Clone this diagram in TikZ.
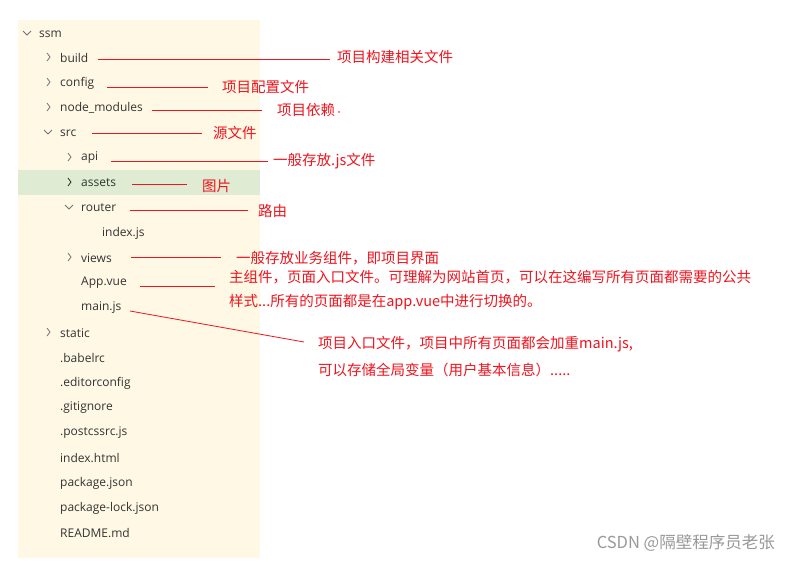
\documentclass[tikz,border=0pt]{standalone}
\usepackage{fontspec}
\setmainfont{Open Sans}
\newfontfamily\cjk{Noto Sans CJK SC}
\definecolor{panel}{HTML}{FEF8E5}
\definecolor{hl}{HTML}{DFEBD2}
\definecolor{nred}{HTML}{F0141E}
\begin{document}
\begin{tikzpicture}[x=1pt,y=-1pt,
  item/.style={anchor=west,inner sep=0pt,font=\fontsize{12}{14}\selectfont,text=black!80},
  note/.style={anchor=west,inner sep=0pt,font=\cjk\fontsize{14.5}{16}\selectfont,text=nred},
  lnk/.style={draw=nred,line width=0.8pt},
  chev/.style={draw=black!55,line width=0.8pt}]
\useasboundingbox (0,0) rectangle (790,562);
\fill[white] (0,0) rectangle (790,562);
\fill[panel] (18,20) rectangle (260,558);
\fill[hl] (18,170) rectangle (260,195);
% chevrons
\draw[chev] (23,31)--(27,35)--(31,31);
\draw[chev] (47,53)--(50,57)--(47,61);
\draw[chev] (47,78)--(50,82)--(47,86);
\draw[chev] (47,103)--(50,107)--(47,111);
\draw[chev] (44,130)--(48,134)--(52,130);
\draw[chev] (68,153)--(71,157)--(68,161);
\draw[chev,draw=black!85] (68,178)--(71,182)--(68,186);
\draw[chev] (65,205)--(69,209)--(73,205);
\draw[chev] (68,253)--(71,257)--(68,261);
\draw[chev] (47,328)--(50,332)--(47,336);
% items
\node[item] (ssm) at (39,34) {ssm};
\node[item] (build) at (60,58) {build};
\node[item] (config) at (60,83) {config};
\node[item] (nm) at (60,108) {node\_modules};
\node[item] (src) at (60,133) {src};
\node[item] (api) at (81,158) {api};
\node[item] (assets) at (81,183) {assets};
\node[item] (router) at (81,208) {router};
\node[item] (idx) at (102,233) {index.js};
\node[item] (views) at (81,258) {views};
\node[item] (app) at (81,283) {App.vue};
\node[item] (main) at (81,308) {main.js};
\node[item] (static) at (60,333) {static};
\node[item] (babel) at (60,358) {.babelrc};
\node[item] (edit) at (60,383) {.editorconfig};
\node[item] (git) at (60,408) {.gitignore};
\node[item] (post) at (60,433) {.postcssrc.js};
\node[item] (html) at (60,458) {index.html};
\node[item] (pkg) at (60,483) {package.json};
\node[item] (lock) at (60,508) {package-lock.json};
\node[item] (readme) at (60,533) {README.md};
% notes
\node[note] (nbuild) at (337,57) {项目构建相关文件};
\node[note] (nconfig) at (222,87) {项目配置文件};
\node[note] (nnm) at (277,110) {项目依赖{\fontsize{8}{8}\selectfont\textperiodcentered}};
\node[note] (nsrc) at (213,133) {源文件};
\node[note] (napi) at (273,161) {一般存放.js文件};
\node[note] (nassets) at (202,186) {图片};
\node[note] (nrouter) at (258,211) {路由};
\node[note] (nviews) at (236,258) {一般存放业务组件，即项目界面};
\node[note] (napp) at (229,277) {主组件，页面入口文件。可理解为网站首页，可以在这编写所有页面都需要的公共};
\node[note] (napp2) at (229,302) {样式...所有的页面都是在app.vue中进行切换的。};
\node[note] (nmain) at (318,344) {项目入口文件，项目中所有页面都会加重main.js,};
\node[note] (nmain2) at (318,370) {可以存储全局变量（用户基本信息）.....};
% connectors
\draw[lnk] (98,59)--(330,59);
\draw[lnk] (107,87)--(208,87);
\draw[lnk] (152,110)--(262,110);
\draw[lnk] (92,133)--(202,133);
\draw[lnk] (111,161)--(268,161);
\draw[lnk] (132,184)--(187,184);
\draw[lnk] (130,210)--(248,210);
\draw[lnk] (131,257)--(221,257);
\draw[lnk] (140,286)--(215,286);
\draw[lnk] (130,311)--(304,342);
\node[anchor=east,inner sep=0pt,font=\cjk\fontsize{16.5}{18}\selectfont,text=black!40] (wm) at (775,543) {CSDN @隔壁程序员老张};
\end{tikzpicture}
\end{document}
